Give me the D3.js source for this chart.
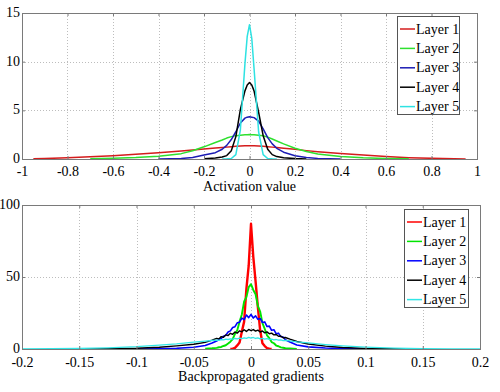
<!DOCTYPE html>
<html>
<head>
<meta charset="utf-8">
<script src="https://cdn.jsdelivr.net/npm/d3@7"></script>
<style>
body { margin: 0; background: #fff; }
text { font-family: "Liberation Serif", "Times New Roman", serif; font-size: 14px; fill: #000; }
.grid line { stroke: #bdbdbd; stroke-width: 1; stroke-dasharray: 1,2; }
.frame { fill: none; stroke: #7a7a7a; stroke-width: 1; }
.axis path.domain { display: none; }
.axis line { stroke: #7a7a7a; }
.legendBox { fill: #fff; stroke: #555; stroke-width: 1; }
.series { fill: none; stroke-linejoin: round; }
</style>
</head>
<body>
<svg id="chart" width="500" height="392"></svg>
<script>
var layerNames = ["Layer 1", "Layer 2", "Layer 3", "Layer 4", "Layer 5"];

// top panel: activation value histograms
var actX = [-0.95, -0.9, -0.8, -0.7, -0.6, -0.5, -0.4, -0.3, -0.25, -0.2, -0.15, -0.12, -0.1, -0.08, -0.06, -0.04, -0.02, -0.01,
	0, 0.01, 0.02, 0.04, 0.06, 0.08, 0.1, 0.12, 0.15, 0.2, 0.25, 0.3, 0.4, 0.5, 0.6, 0.7, 0.8, 0.9, 0.95];
var act1 = [0.02, 0.05, 0.12, 0.22, 0.34, 0.48, 0.64, 0.82, 0.92, 1.02, 1.12, 1.18, 1.22, 1.26, 1.30, 1.33, 1.35, 1.36,
	1.37, 1.36, 1.35, 1.33, 1.30, 1.26, 1.22, 1.18, 1.10, 0.99, 0.86, 0.75, 0.57, 0.40, 0.25, 0.14, 0.07, 0.03, 0.01];
var act2 = [null, null, null, 0.02, 0.08, 0.15, 0.28, 0.55, 0.85, 1.25, 1.70, 1.95, 2.15, 2.30, 2.40, 2.45, 2.48, 2.50,
	2.52, 2.50, 2.48, 2.45, 2.38, 2.25, 2.05, 1.85, 1.55, 1.10, 0.78, 0.52, 0.25, 0.12, 0.05, 0.02, null, null, null];
var act3 = [null, null, null, null, null, null, 0.01, 0.05, 0.15, 0.40, 0.65, 1.00, 1.40, 2.00, 2.80, 3.70, 4.20, 4.30,
	4.35, 4.30, 4.25, 3.90, 3.10, 2.20, 1.55, 1.10, 0.70, 0.33, 0.15, 0.06, 0.01, null, null, null, null, null, null];
var act4 = [null, null, null, null, null, null, null, null, null, 0.02, 0.10, 0.20, 0.35, 0.85, 2.30, 5.10, 7.00, 7.60,
	7.85, 7.60, 7.00, 4.80, 2.40, 1.00, 0.45, 0.25, 0.12, 0.04, 0.01, null, null, null, null, null, null, null, null];
var act5 = [null, null, null, null, null, null, null, null, null, null, null, 0.01, 0.02, 0.05, 0.45, 3.00, 9.80, 12.60,
	13.80, 12.40, 9.30, 2.80, 0.45, 0.05, 0.02, 0.01, null, null, null, null, null, null, null, null, null, null, null];
var actTicksX = [-1, -0.8, -0.6, -0.4, -0.2, 0, 0.2, 0.4, 0.6, 0.8, 1];
var actTicksY = [0, 5, 10, 15];
var actColors = ["#d41c1c", "#2ee02e", "#1c1cb4", "#000000", "#2ee2e2"];
var actWidths = [1.5, 1.5, 1.5, 1.5, 1.5];

// bottom panel: backpropagated gradient histograms
var gradX = [-0.2, -0.175, -0.15, -0.125, -0.1, -0.08, -0.065, -0.05, -0.04, -0.034,
	-0.03, -0.028, -0.026, -0.024, -0.022, -0.02, -0.018, -0.016, -0.014, -0.012, -0.01, -0.008, -0.006, -0.004, -0.002,
	0, 0.002, 0.004, 0.006, 0.008, 0.01, 0.012, 0.014, 0.016, 0.018, 0.02, 0.022, 0.024, 0.026, 0.028, 0.03,
	0.034, 0.04, 0.05, 0.065, 0.08, 0.1, 0.125, 0.15, 0.175, 0.2];
var grad1 = [null, null, null, null, null, null, null, null, null, null,
	null, null, null, null, null, null, 0, 0.3, 0.8, 2.5, 4.5, 12, 19, 42, 58,
	87, 64, 47, 29, 13, 4, 2, 0.6, 0.2, 0, null, null, null, null, null, null,
	null, null, null, null, null, null, null, null, null, null];
var grad2 = [null, null, null, null, null, null, null, null, 0.2, 0.5,
	0.8, 1.2, 1.4, 2.1, 2.6, 3.8, 5.1, 6.8, 10.5, 13, 19, 24, 33, 36, 43,
	45, 41, 38, 30, 26, 18, 14, 9.5, 7.5, 4.8, 4.0, 2.4, 1.9, 1.1, 0.9, 0.5,
	0.3, 0.1, null, null, null, null, null, null, null, null];
var grad3 = [null, null, null, null, 0.05, 0.2, 0.5, 1.2, 2.4, 4.2,
	5.6, 6.5, 7.4, 8.9, 9.6, 11.8, 12.6, 14.9, 15.5, 18.2, 18.6, 21.5, 20.4, 23.6, 21.8,
	24, 21.5, 23, 20.6, 21.2, 18.4, 18.8, 15.6, 15.9, 13, 13.4, 10.5, 11, 8.6, 8.3, 6.4,
	4.8, 2.8, 1.5, 0.7, 0.3, 0.1, null, null, null, null];
var grad4 = [null, null, 0.05, 0.2, 0.5, 1.2, 2.2, 3.3, 4.6, 6.2,
	7.4, 7.0, 8.6, 8.1, 9.8, 9.3, 10.9, 10.2, 11.8, 11.0, 12.6, 11.9, 13.4, 12.2, 13.6,
	12.8, 13.5, 12.4, 13.1, 11.8, 12.5, 11.2, 11.9, 10.6, 11.0, 9.8, 10.1, 8.8, 9.0, 7.8, 8.0,
	6.8, 5.2, 3.5, 2.0, 1.0, 0.4, 0.15, 0.05, null, null];
var grad5 = [0.1, 0.2, 0.4, 0.8, 1.6, 2.7, 3.6, 4.8, 5.5, 5.9,
	6.2, 6.0, 6.5, 6.3, 6.8, 6.6, 7.0, 6.8, 7.3, 7.0, 7.5, 7.2, 7.8, 7.4, 8.0,
	7.6, 8.0, 7.3, 7.7, 7.1, 7.4, 6.9, 7.2, 6.7, 6.9, 6.4, 6.6, 6.1, 6.3, 5.8, 6.0,
	5.6, 5.0, 4.2, 3.1, 2.2, 1.3, 0.6, 0.25, 0.1, 0.05];
var gradTicksX = [-0.2, -0.15, -0.1, -0.05, 0, 0.05, 0.1, 0.15, 0.2];
var gradTicksY = [0, 50, 100];
var gradColors = ["#ff0000", "#00e400", "#0000ff", "#000000", "#30e6e6"];
var gradWidths = [2.4, 1.9, 1.6, 1.4, 1.3];

var svg = d3.select("#chart");

drawPanel({
	id: "act",
	left: 22, right: 477, top: 13, bottom: 159,
	xDomain: [-1, 1], yDomain: [0, 15],
	xTicks: actTicksX, yTicks: actTicksY,
	xs: actX, series: [act1, act2, act3, act4, act5],
	colors: actColors, widths: actWidths,
	xPad: 7, label: "Activation value", labelY: 191,
	legend: { x: 397, y: 16, w: 62, h: 98 }
});

drawPanel({
	id: "grad",
	left: 22, right: 480, top: 205, bottom: 349,
	xDomain: [-0.2, 0.2], yDomain: [0, 100],
	xTicks: gradTicksX, yTicks: gradTicksY,
	xs: gradX, series: [grad1, grad2, grad3, grad4, grad5],
	colors: gradColors, widths: gradWidths,
	xPad: 8, label: "Backpropagated gradients", labelY: 381,
	legend: { x: 404, y: 209, w: 64, h: 98 }
});

function drawPanel(p) {

	var x = d3.scaleLinear().domain(p.xDomain).range([p.left, p.right]);
	var y = d3.scaleLinear().domain(p.yDomain).range([p.bottom, p.top]);

	var g = svg.append("g")
	.attr("id", p.id);

	g.append("clipPath")
	.attr("id", p.id + "Clip")
	.append("rect")
	.attr("x", p.left)
	.attr("y", p.top)
	.attr("width", p.right - p.left)
	.attr("height", p.bottom - p.top);

	// dotted grid
	var grid = g.append("g").attr("class", "grid");
	grid.selectAll("line.gx")
	.data(p.xTicks.slice(1, -1))
	.enter().append("line")
	.attr("x1", function(d) { return Math.round(x(d)) + 0.5; })
	.attr("x2", function(d) { return Math.round(x(d)) + 0.5; })
	.attr("y1", p.top)
	.attr("y2", p.bottom);
	grid.selectAll("line.gy")
	.data(p.yTicks.slice(1, -1))
	.enter().append("line")
	.attr("y1", function(d) { return Math.round(y(d)) + 0.5; })
	.attr("y2", function(d) { return Math.round(y(d)) + 0.5; })
	.attr("x1", p.left)
	.attr("x2", p.right);

	// curves
	var line = d3.line()
	.defined(function(d) { return d != null; })
	.x(function(d, i) { return x(p.xs[i]); })
	.y(function(d) { return y(d); });

	g.append("g")
	.attr("clip-path", "url(#" + p.id + "Clip)")
	.selectAll("path")
	.data(p.series)
	.enter().append("path")
	.attr("class", "series")
	.attr("stroke", function(d, i) { return p.colors[i]; })
	.attr("stroke-width", function(d, i) { return p.widths[i]; })
	.attr("d", line);

	// frame and ticks
	g.append("rect")
	.attr("class", "frame")
	.attr("x", p.left + 0.5)
	.attr("y", p.top + 0.5)
	.attr("width", p.right - p.left)
	.attr("height", p.bottom - p.top);

	g.append("g")
	.attr("class", "axis")
	.attr("transform", "translate(0," + p.bottom + ")")
	.call(d3.axisBottom(x).tickValues(p.xTicks).tickSizeInner(-3).tickSizeOuter(0)
		.tickPadding(p.xPad).tickFormat(function(d) { return String(d); }));
	g.append("g")
	.attr("class", "axis")
	.attr("transform", "translate(0," + p.top + ")")
	.call(d3.axisTop(x).tickValues(p.xTicks).tickSizeInner(-3).tickSizeOuter(0).tickFormat(""));
	g.append("g")
	.attr("class", "axis")
	.attr("transform", "translate(" + p.left + ",0)")
	.call(d3.axisLeft(y).tickValues(p.yTicks).tickSizeInner(-3).tickSizeOuter(0)
		.tickPadding(2).tickFormat(function(d) { return String(d); }))
	.selectAll("text")
	.attr("dy", "0.26em");
	g.append("g")
	.attr("class", "axis")
	.attr("transform", "translate(" + p.right + ",0)")
	.call(d3.axisRight(y).tickValues(p.yTicks).tickSizeInner(-3).tickSizeOuter(0).tickFormat(""));

	g.append("text")
	.attr("x", (p.left + p.right) / 2)
	.attr("y", p.labelY)
	.attr("text-anchor", "middle")
	.text(p.label);

	// legend
	var lg = g.append("g")
	.attr("transform", "translate(" + [p.legend.x, p.legend.y] + ")");
	lg.append("rect")
	.attr("class", "legendBox")
	.attr("x", 0.5)
	.attr("y", 0.5)
	.attr("width", p.legend.w)
	.attr("height", p.legend.h);
	var items = lg.selectAll("g.item")
	.data(layerNames)
	.enter().append("g")
	.attr("class", "item")
	.attr("transform", function(d, i) { return "translate(0," + (13 + i * 19.4) + ")"; });
	items.append("line")
	.attr("x1", 3)
	.attr("x2", 18)
	.attr("stroke", function(d, i) { return p.colors[i]; })
	.attr("stroke-width", 1.5);
	items.append("text")
	.attr("x", 19)
	.attr("dy", "0.33em")
	.text(function(d) { return d; });

}
</script>
</body>
</html>
